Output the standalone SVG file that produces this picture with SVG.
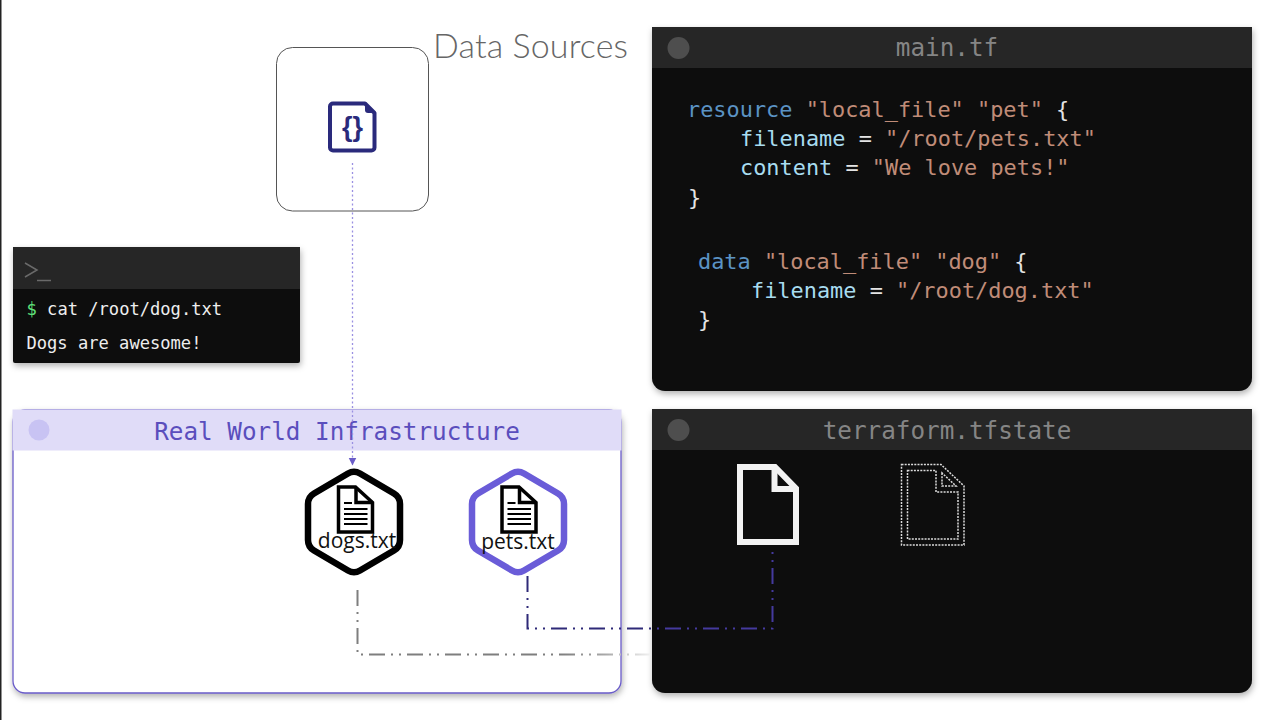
<svg xmlns="http://www.w3.org/2000/svg" width="1280" height="720" viewBox="0 0 1280 720">
<style>
.m{font-family:"DejaVu Sans Mono","Liberation Mono",monospace}
.c{font-size:21.9px}
.k{fill:#5b93c4}.s{fill:#c08c78}.a{fill:#a8dcf0}.w{fill:#e4e4e4}
.t{font-size:24.3px;fill:#858585;text-anchor:middle}
.f{font-family:"Open Sans","Noto Sans",sans-serif;font-size:21px;fill:#111;text-anchor:middle}
.hex{fill:#fff;stroke-width:6.5}
.doc{fill:#fff;stroke:#000;stroke-width:3.5}
.ln{stroke:#000;stroke-width:2.2}
.dd{fill:none;stroke-width:2;stroke-dasharray:16 6 2 6 2 6}
</style>
<defs>
<filter id="sh" x="-5%" y="-5%" width="110%" height="115%"><feDropShadow dx="1" dy="3" stdDeviation="3" flood-color="#000" flood-opacity=".3"/></filter>
<marker id="ah" markerWidth="9" markerHeight="9" refX="7.5" refY="4" orient="auto" markerUnits="userSpaceOnUse"><path d="M0 0L8 4L0 8Z" fill="#6a5cc8"/></marker>
<linearGradient id="fade" gradientUnits="userSpaceOnUse" x1="560" y1="0" x2="650" y2="0"><stop offset="0" stop-color="#7e7e7e"/><stop offset=".5" stop-color="#a8a8a8"/><stop offset="1" stop-color="#f0f0f0"/></linearGradient>
<path id="hexa" d="M348 473.500Q354 470 360 473.500L394 493.500Q400 497 400 504V540Q400 547 394 550.500L360 570.500Q354 574 348 570.500L314 550.500Q308 547 308 540V504Q308 497 314 493.500Z"/>
<g id="page">
<path class="doc" d="M338.500 487h17l17 15.500v29.500h-34Z"/><path d="M356 487v15.500h16.500" fill="none" stroke="#000" stroke-width="3.500"/>
<path class="ln" d="M344 503h8M344 509h23.500M344 514h23.500M344 519h23.500M344 524h23.500"/>
</g>
</defs>
<rect width="1280" height="720" fill="#fff"/>
<rect x="0" y="0" width="1.500" height="720" fill="#222"/>

<g id="data-sources">
<rect x="276.500" y="47.500" width="152" height="163.500" rx="16" fill="#fff" stroke="#555" stroke-width="1"/>
<text x="433" y="58" font-family="Lato,'Open Sans',sans-serif" font-weight="300" font-size="34" fill="#666" textLength="195" lengthAdjust="spacing">Data Sources</text>
<path d="M333 103.500H365L374.500 113V147.500a3 3 0 0 1-3 3h-38.500a3 3 0 0 1-3-3V106.500a3 3 0 0 1 3-3Z" fill="#fff" stroke="#2a2a7c" stroke-width="4" stroke-linejoin="round"/>
<path d="M365 104v6a3 3 0 0 0 3 3h7Z" fill="#2a2a7c"/>
<text x="352.500" y="136" text-anchor="middle" font-family="'Liberation Sans',sans-serif" font-weight="700" font-size="27" fill="#2a2a7c">{}</text>
</g>

<g id="terminal">
<rect x="13" y="247" width="287" height="116" rx="2" fill="#0c0c0c" filter="url(#sh)"/>
<rect x="13" y="247" width="287" height="42" fill="#262626"/>
<path d="M25 263l12 7-12 7" fill="none" stroke="#6a6a6a" stroke-width="1.500"/>
<path d="M37 280.500h14" stroke="#6a6a6a" stroke-width="1.500"/>
<text class="m" x="26.500" y="315" font-size="17.100" fill="#eee"><tspan fill="#5fe07a">$</tspan> cat /root/dog.txt</text>
<text class="m" x="26.500" y="349" font-size="17.100" fill="#eee">Dogs are awesome!</text>
</g>

<g id="main-tf">
<path d="M652 27H1252V378a13 13 0 0 1-13 13H665a13 13 0 0 1-13-13Z" fill="#0c0c0c" filter="url(#sh)"/>
<rect x="652" y="27" width="600" height="41" fill="#262626"/>
<circle cx="678.500" cy="48" r="11" fill="#4e4e4e"/>
<text class="m t" x="947" y="56">main.tf</text>
<g class="m c">
<text x="687" y="117"><tspan class="k">resource</tspan> <tspan class="s">"local_file" "pet"</tspan> <tspan class="w">{</tspan></text>
<text x="740" y="146"><tspan class="a">filename</tspan> <tspan class="w">=</tspan> <tspan class="s">"/root/pets.txt"</tspan></text>
<text x="740" y="175"><tspan class="a">content</tspan> <tspan class="w">=</tspan> <tspan class="s">"We love pets!"</tspan></text>
<text x="688" y="205" class="w">}</text>
<text x="698" y="269"><tspan class="k">data</tspan> <tspan class="s">"local_file" "dog"</tspan> <tspan class="w">{</tspan></text>
<text x="751" y="298"><tspan class="a">filename</tspan> <tspan class="w">=</tspan> <tspan class="s">"/root/dog.txt"</tspan></text>
<text x="698" y="327" class="w">}</text>
</g>
</g>

<g id="real-world">
<rect x="13" y="410" width="608" height="283" rx="12" fill="#fff" stroke="#6a5cc8" stroke-width="1.300" filter="url(#sh)"/>
<rect x="12.500" y="409.500" width="609" height="41" fill="#e0dcf8"/>
<circle cx="39" cy="430" r="10.500" fill="#c8c3f3"/>
<text class="m" x="337" y="439.500" font-size="24.300" fill="#5a4ebd" text-anchor="middle">Real World Infrastructure</text>
</g>

<g id="tfstate">
<path d="M652 409H1252V680a13 13 0 0 1-13 13H665a13 13 0 0 1-13-13Z" fill="#0c0c0c" filter="url(#sh)"/>
<rect x="652" y="409" width="600" height="41" fill="#262626"/>
<circle cx="678.500" cy="430" r="11" fill="#4e4e4e"/>
<text class="m t" x="947" y="438.500">terraform.tfstate</text>
</g>

<g id="connectors" fill="none">
<path d="M352.500 163V465" stroke="#9a90e2" stroke-width="1.300" stroke-dasharray="2 2.500" marker-end="url(#ah)"/>
<path class="dd" d="M357.500 590V654.500H651" stroke="url(#fade)"/>
<path class="dd" d="M527.500 576V628.500H652" stroke="#2f2a78"/>
<path class="dd" d="M652 628.500H772.500V552" stroke="#453a9e" stroke-dashoffset="177"/>
</g>

<g id="dogs-node">
<use href="#hexa" class="hex" stroke="#000"/>
<use href="#page"/>
<text class="f" x="357" y="548">dogs.txt</text>
</g>
<g id="pets-node">
<use href="#hexa" class="hex" stroke="#6a5cd8" x="164"/>
<use href="#page" x="163.500"/>
<text class="f" x="518" y="549">pets.txt</text>
</g>

<g id="state-file-solid">
<path d="M740 467H775L796 488.500V542H740Z" fill="none" stroke="#f2f2f2" stroke-width="6"/>
<path d="M774.500 468V489H796" fill="none" stroke="#f2f2f2" stroke-width="6"/>
</g>
<g id="state-file-dashed" fill="none" stroke="#dcdcdc" stroke-width="1.500" stroke-dasharray="2 1.200">
<path d="M901.500 464.500H941L964 486V545H901.500Z"/>
<path d="M907.500 470.500H936V492H958V539H907.500Z"/>
<path d="M942 473V486H956Z"/>
</g>
</svg>
